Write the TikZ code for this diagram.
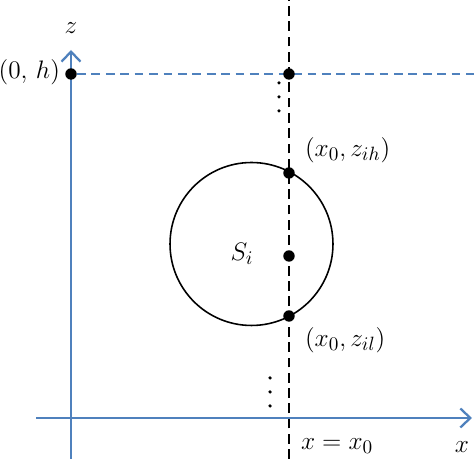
\documentclass[tikz,border=0pt]{standalone}
\usepackage{tikz}
\usetikzlibrary{positioning, arrows.meta, calc}
\definecolor{axisblue}{RGB}{79,129,189}
\tikzset{
  axis/.style={line width=1.3pt, draw=axisblue, -{Straight Barb[length=2mm,width=3.8mm,line width=1.3pt]}},
  hline/.style={line width=1.3pt, draw=axisblue, dash pattern=on 5pt off 3.2pt},
  vline/.style={line width=1.2pt, draw=black, dash pattern=on 5.5pt off 3.2pt},
  pt/.style={circle, fill=black, inner sep=0, minimum size=6.5pt},
  dot/.style={circle, fill=black, inner sep=0, minimum size=2pt},
  lbl/.style={font=\fontsize{15.5}{18}\selectfont, inner sep=1pt}
}

\begin{document}
\begin{tikzpicture}[x=0.02cm, y=0.02cm]
\useasboundingbox (0,0) rectangle (474,459);

% axes
\coordinate (zbot) at (71,0);
\coordinate (ztop) at (71,409);
\coordinate (xleft) at (36,41);
\coordinate (xright) at (472,41);
\draw[axis] (zbot) -- (ztop);
\draw[axis] (xleft) -- (xright);
\node [lbl] (zlab) at (71,431) {$z$};
\node [lbl] (xlab) at (462,12) {$x$};

% height line and x = x0
\node [pt] (h) at (71,385) {};
\node [lbl, anchor=east] (hlab) at (62,387) {$(0,\,h)$};
\coordinate (hend) at (474,385);
\draw[hline] (h) -- (hend);

\coordinate (vbot) at (289,0);
\coordinate (vtop) at (289,459);
\draw[vline] (vbot) -- (vtop);
\node [pt] (top) at (289,385) {};
\node [lbl, anchor=west] (x0lab) at (299,13) {$x = x_0$};

% sphere
\node [circle, draw, line width=0.9pt, minimum size=3.26cm, inner sep=0] (sph) at (251.5,215) {};
\node [lbl] (slab) at (242,205) {$S_i$};
\node [pt] (zih) at (289,286) {};
\node [pt] (zil) at (289,143) {};
\node [pt] (mid) at (289,203) {};
\node [lbl, anchor=west] (zihlab) at (303,309) {$(x_0, z_{ih})$};
\node [lbl, anchor=west] (zillab) at (303,119) {$(x_0, z_{il})$};

% dots
\foreach \y [count=\i] in {376,362,348} {
  \node [dot] (up\i) at (279,\y) {};
}
\foreach \y [count=\i] in {81,67,53} {
  \node [dot] (dn\i) at (270,\y) {};
}

\end{tikzpicture}
\end{document}
